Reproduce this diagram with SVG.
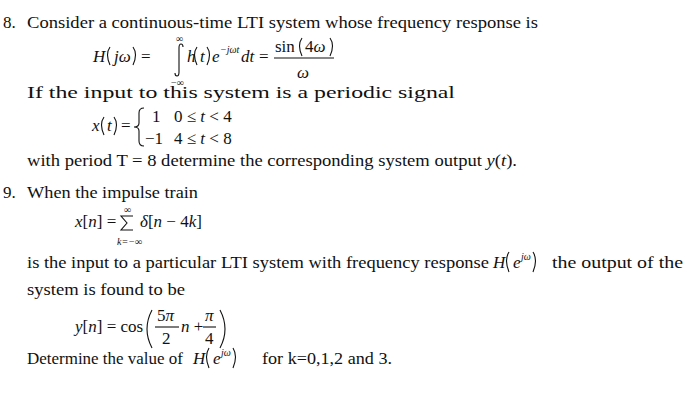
<svg xmlns="http://www.w3.org/2000/svg" width="700" height="405" viewBox="0 0 700 405" font-family="'Liberation Serif', 'Times New Roman', serif">
<style>
text{font-family:"Liberation Serif","Times New Roman","DejaVu Serif",serif;fill:#111;font-size:17px}
.m{font-size:17px}
.i{font-style:italic}
.s{font-size:10px}
line,.p{stroke:#111;stroke-width:1.1;fill:none}
</style>
<rect width="700" height="405" fill="#fff"/>
<g id="q8">
<text x="3" y="28">8.</text>
<text x="27" y="28" textLength="511" lengthAdjust="spacingAndGlyphs">Consider a continuous-time LTI system whose frequency response is</text>
<text class="m i" x="93" y="62">H</text>
<path class="p" d="M110,47 q-5,7 0,18"/>
<text class="m i" x="114" y="62">jω</text>
<path class="p" d="M133,47 q5,7 0,18"/>
<text class="m" x="141" y="62">=</text>
<path class="p" d="M183,47 q0,-3 -2,-3 M181,44 q-2,0 -2,4 v24 q0,4 -2,4 q-2,0 -2,-3" stroke-width="1.4"/>
<text class="s" x="176" y="42">∞</text>
<text class="s" x="171" y="86">−∞</text>
<text class="m i" x="187" y="62">h</text>
<path class="p" d="M197,47 q-5,7 0,18"/>
<text class="m i" x="200" y="62">t</text>
<path class="p" d="M207,47 q5,7 0,18"/>
<text class="m i" x="212" y="62">e</text>
<text class="s i" x="220" y="53">−jωt</text>
<text class="m i" x="241" y="62">dt</text>
<text class="m" x="259" y="62">=</text>
<text class="m" x="275" y="52">sin</text>
<path class="p" d="M302,38 q-5,7 0,18"/>
<text class="m" x="305" y="52">4<tspan class="i">ω</tspan></text>
<path class="p" d="M330,38 q5,7 0,18"/>
<line x1="274" y1="58" x2="334" y2="58"/>
<text class="m i" x="297" y="78">ω</text>
<text x="27" y="98" textLength="428" lengthAdjust="spacingAndGlyphs">If the input to this system is a periodic signal</text>
<text class="m i" x="92" y="131">x</text>
<path class="p" d="M104,117 q-5,7 0,18"/>
<text class="m i" x="107" y="131">t</text>
<path class="p" d="M114,117 q5,7 0,18"/>
<text class="m" x="121" y="131">=</text>
<path class="p" d="M144,108 q-5,0 -5,5 v10 q0,4 -5,4 q5,0 5,4 v10 q0,5 5,5"/>
<text class="m" x="152" y="122">1</text>
<text class="m" x="174" y="122">0 ≤ <tspan class="i">t</tspan> &lt; 4</text>
<text class="m" x="145" y="144">−1</text>
<text class="m" x="174" y="144">4 ≤ <tspan class="i">t</tspan> &lt; 8</text>
<text x="27" y="166" textLength="490" lengthAdjust="spacingAndGlyphs">with period T = 8 determine the corresponding system output <tspan class="i">y</tspan>(<tspan class="i">t</tspan>).</text>
</g>
<g id="q9">
<text x="3" y="198">9.</text>
<text x="27" y="198" textLength="171" lengthAdjust="spacingAndGlyphs">When the impulse train</text>
<text class="m" x="75" y="227"><tspan class="i">x</tspan>[<tspan class="i">n</tspan>] =</text>
<path class="p" d="M133,216 h-12 l6,7 l-6,7 h12"/>
<text class="s" x="124" y="213">∞</text>
<text class="s i" x="117" y="245">k=−∞</text>
<text class="m" x="140" y="227"><tspan class="i">δ</tspan>[<tspan class="i">n</tspan> − 4<tspan class="i">k</tspan>]</text>
<text x="27" y="268" textLength="462" lengthAdjust="spacingAndGlyphs">is the input to a particular LTI system with frequency response</text>
<text class="m i" x="493" y="268">H</text>
<path class="p" d="M509,252 q-5,8 0,20"/>
<text class="m i" x="513" y="268">e</text>
<text class="s i" x="521" y="260">jω</text>
<path class="p" d="M533,252 q5,8 0,20"/>
<text x="552" y="268" textLength="131" lengthAdjust="spacingAndGlyphs">the output of the</text>
<text x="27" y="295" textLength="158" lengthAdjust="spacingAndGlyphs">system is found to be</text>
<text class="m" x="75" y="332"><tspan class="i">y</tspan>[<tspan class="i">n</tspan>] = cos</text>
<path class="p" d="M152,310 q-10,19 0,38"/>
<text class="m" x="157" y="321">5<tspan class="i">π</tspan></text>
<line x1="155" y1="327" x2="179" y2="327"/>
<text class="m" x="162" y="344">2</text>
<text class="m" x="181" y="332"><tspan class="i">n</tspan> +</text>
<text class="m i" x="205" y="321">π</text>
<line x1="203" y1="327" x2="216" y2="327"/>
<text class="m" x="205" y="344">4</text>
<path class="p" d="M220,310 q10,19 0,38"/>
<text x="27" y="364" textLength="156" lengthAdjust="spacingAndGlyphs">Determine the value of</text>
<text class="m i" x="193" y="364">H</text>
<path class="p" d="M209,348 q-5,8 0,20"/>
<text class="m i" x="213" y="364">e</text>
<text class="s i" x="221" y="356">jω</text>
<path class="p" d="M233,348 q5,8 0,20"/>
<text x="262" y="364" textLength="130" lengthAdjust="spacingAndGlyphs">for k=0,1,2 and 3.</text>
</g>
</svg>
